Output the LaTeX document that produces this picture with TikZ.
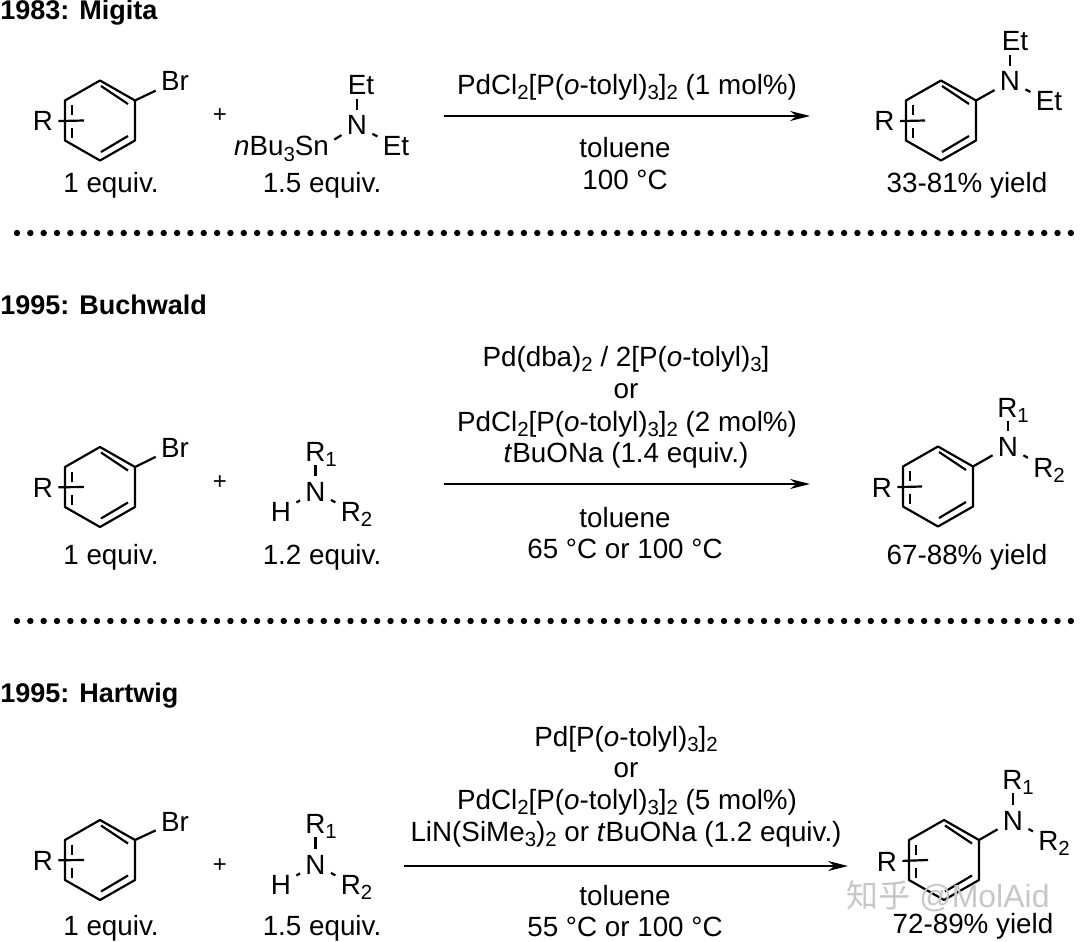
\documentclass[tikz,border=0pt]{standalone}
\usepackage{fontspec}
\setmainfont{Liberation Sans}
\newfontfamily\cjkfont{Noto Sans CJK SC}
\usetikzlibrary{arrows.meta}
\newcommand\chemsub[1]{\raisebox{-2.5pt}{\fontsize{10.2}{10.2}\selectfont #1}}
\newcommand\arylring[3]{
	\coordinate (#1a) at (#2,#3-40);
	\coordinate (#1b) at (#2+35,#3-20);
	\coordinate (#1c) at (#2+35,#3+20);
	\coordinate (#1d) at (#2,#3+40);
	\coordinate (#1e) at (#2-35,#3+20);
	\coordinate (#1f) at (#2-35,#3-20);
	\coordinate (#1x) at (#2-16,#3);
	\draw[bond] (#1a) -- (#1b) -- (#1c) -- (#1d) -- (#1e) -- (#1f) -- cycle;
	\draw[bond] (#2+1,#3-34.5) -- (#2+28,#3-16.5);
	\draw[bond] (#2+1,#3+31.5) -- (#2+28,#3+15.5);
	\draw[bond] (#2-28,#3-15.5) -- (#2-28,#3-5.5);
	\draw[bond] (#2-28,#3+7.5) -- (#2-28,#3+17.5);
}
\tikzset{
	every node/.style={font=\fontsize{13.9}{16}\selectfont, anchor=base, inner sep=0pt},
	atom/.style={inner xsep=2.5pt, inner ysep=2.5pt},
	heading/.style={anchor=base west, font=\fontsize{13.5}{16}\selectfont\bfseries},
	plus/.style={anchor=center, font=\fontsize{12}{12}\selectfont},
	bond/.style={line width=1.1pt, line join=round},
	vbond/.style={bond, shorten <=2pt},
	arrowline/.style={line width=0.75pt, -{Stealth[length=10pt,width=5pt]}},
	dotline/.style={line width=3.2pt, line cap=round, dash pattern=on 0pt off 6.67pt},
	mark text/.style={anchor=center, text=black!22, font=\fontsize{16}{16}\selectfont}
}
\begin{document}
\begin{tikzpicture}[x=0.5pt,y=-0.5pt]
\useasboundingbox (0,0) rectangle (1080,941);

	% 1983
	\node[heading](titleA) at (0,20){1983: Migita};
	\arylring{ringA}{100}{120.5}
	\node[atom](rA) at (43,131){R};
	\node[atom](brA) at (175,91){Br};
	\draw[bond] (rA) -- (ringAx);
	\draw[bond] (ringAb) -- (brA);
	\node(equivA) at (111,193){1 equiv.};
	\node[plus](plusA) at (220,116){+};
	\node[atom](etA) at (361,95){Et};
	\node[atom](nA) at (357,135){N};
	\node[atom](etB) at (396,156){Et};
	\node[atom](snA) at (281.5,156){\textit{n}Bu\chemsub{3}Sn};
	\draw[vbond] (nA |- etA.base) -- (nA.north);
	\draw[bond] (nA) -- (snA.10);
	\draw[bond] (nA) -- (etB);
	\node(equivB) at (322,193){1.5 equiv.};
	\node(catA) at (627,95){PdCl\chemsub{2}[P(\textit{o}-tolyl)\chemsub{3}]\chemsub{2} (1 mol\%)};
	\coordinate (arrowAstart) at (444,116);
	\coordinate (arrowAend) at (810,116);
	\draw[arrowline] (arrowAstart) -- (arrowAend);
	\node(solvA) at (625,158){toluene};
	\node(tempA) at (625,190){100 °C};
	\arylring{ringB}{941}{120.5}
	\node[atom](rB) at (884.5,131){R};
	\node[atom](nB) at (1010,91){N};
	\node[atom](etC) at (1015,51){Et};
	\node[atom](etD) at (1049,111){Et};
	\draw[bond] (rB) -- (ringBx);
	\draw[bond] (ringBb) -- (nB);
	\draw[vbond] (nB |- etC.base) -- (nB.north);
	\draw[bond] (nB) -- (etD);
	\node(yieldA) at (967,193){33-81\% yield};

	\coordinate (dotAstart) at (17,233);
	\coordinate (dotAend) at (1082,233);
	\draw[dotline] (dotAstart) -- (dotAend);

	% 1995
	\node[heading](titleB) at (0,314){1995: Buchwald};
	\arylring{ringC}{100}{487}
	\node[atom](rC) at (43,497){R};
	\node[atom](brB) at (175,457){Br};
	\draw[bond] (rC) -- (ringCx);
	\draw[bond] (ringCb) -- (brB);
	\node(equivC) at (111,564){1 equiv.};
	\node[plus](plusB) at (220,483){+};
	\node[atom](rD) at (321,461){R\chemsub{1}};
	\node[atom](nC) at (315.5,501){N};
	\node[atom](hA) at (281,521){H};
	\node[atom](rE) at (356.5,521){R\chemsub{2}};
	\draw[vbond] (nC |- rD.base) -- (nC.north);
	\draw[bond] (nC) -- (hA);
	\draw[bond] (nC) -- (rE);
	\node(equivD) at (322,564){1.2 equiv.};
	\node(catB) at (626,366){Pd(dba)\chemsub{2} / 2[P(\textit{o}-tolyl)\chemsub{3}]};
	\node(orA) at (626,398){or};
	\node(catC) at (627,431){PdCl\chemsub{2}[P(\textit{o}-tolyl)\chemsub{3}]\chemsub{2} (2 mol\%)};
	\node(baseA) at (626,462){\textit{t}BuONa (1.4 equiv.)};
	\coordinate (arrowBstart) at (444,484);
	\coordinate (arrowBend) at (810,484);
	\draw[arrowline] (arrowBstart) -- (arrowBend);
	\node(solvB) at (625,527){toluene};
	\node(tempB) at (625,558){65 °C or 100 °C};
	\arylring{ringD}{938}{486.5}
	\node[atom](rF) at (882,497){R};
	\node[atom](nD) at (1008,456){N};
	\node[atom](rG) at (1013,417){R\chemsub{1}};
	\node[atom](rH) at (1049,477){R\chemsub{2}};
	\draw[bond] (rF) -- (ringDx);
	\draw[bond] (ringDb) -- (nD);
	\draw[vbond] (nD |- rG.base) -- (nD.north);
	\draw[bond] (nD) -- (rH);
	\node(yieldB) at (967,564){67-88\% yield};

	\coordinate (dotBstart) at (17,621);
	\coordinate (dotBend) at (1082,621);
	\draw[dotline] (dotBstart) -- (dotBend);

	% 1995
	\node[heading](titleC) at (0,702){1995: Hartwig};
	\arylring{ringE}{100}{860}
	\node[atom](rI) at (43,870){R};
	\node[atom](brC) at (175,831){Br};
	\draw[bond] (rI) -- (ringEx);
	\draw[bond] (ringEb) -- (brC);
	\node(equivE) at (111,935){1 equiv.};
	\node[plus](plusC) at (220,866){+};
	\node[atom](rJ) at (321,833){R\chemsub{1}};
	\node[atom](nE) at (315.5,874){N};
	\node[atom](hB) at (281,894){H};
	\node[atom](rK) at (356.5,894){R\chemsub{2}};
	\draw[vbond] (nE |- rJ.base) -- (nE.north);
	\draw[bond] (nE) -- (hB);
	\draw[bond] (nE) -- (rK);
	\node(equivF) at (322,935){1.5 equiv.};
	\node(catD) at (626,746){Pd[P(\textit{o}-tolyl)\chemsub{3}]\chemsub{2}};
	\node(orB) at (626,777){or};
	\node(catE) at (627,809){PdCl\chemsub{2}[P(\textit{o}-tolyl)\chemsub{3}]\chemsub{2} (5 mol\%)};
	\node(baseB) at (626,841){LiN(SiMe\chemsub{3})\chemsub{2} or \textit{t}BuONa (1.2 equiv.)};
	\coordinate (arrowCstart) at (404,866);
	\coordinate (arrowCend) at (848,866);
	\draw[arrowline] (arrowCstart) -- (arrowCend);
	\node(solvC) at (625,905){toluene};
	\node(tempC) at (625,936){55 °C or 100 °C};
	\arylring{ringF}{944}{860}
	\node[atom](rL) at (887,871){R};
	\node[atom](nF) at (1013,830){N};
	\node[atom](rM) at (1018,789){R\chemsub{1}};
	\node[atom](rN) at (1054,850){R\chemsub{2}};
	\draw[bond] (rL) -- (ringFx);
	\draw[bond] (ringFb) -- (nF);
	\draw[vbond] (nF |- rM.base) -- (nF.north);
	\draw[bond] (nF) -- (rN);
	\node(yieldC) at (973,933){72-89\% yield};
	\node[mark text](markA) at (948,896){{\cjkfont 知乎} @MolAid};
\end{tikzpicture}
\end{document}
